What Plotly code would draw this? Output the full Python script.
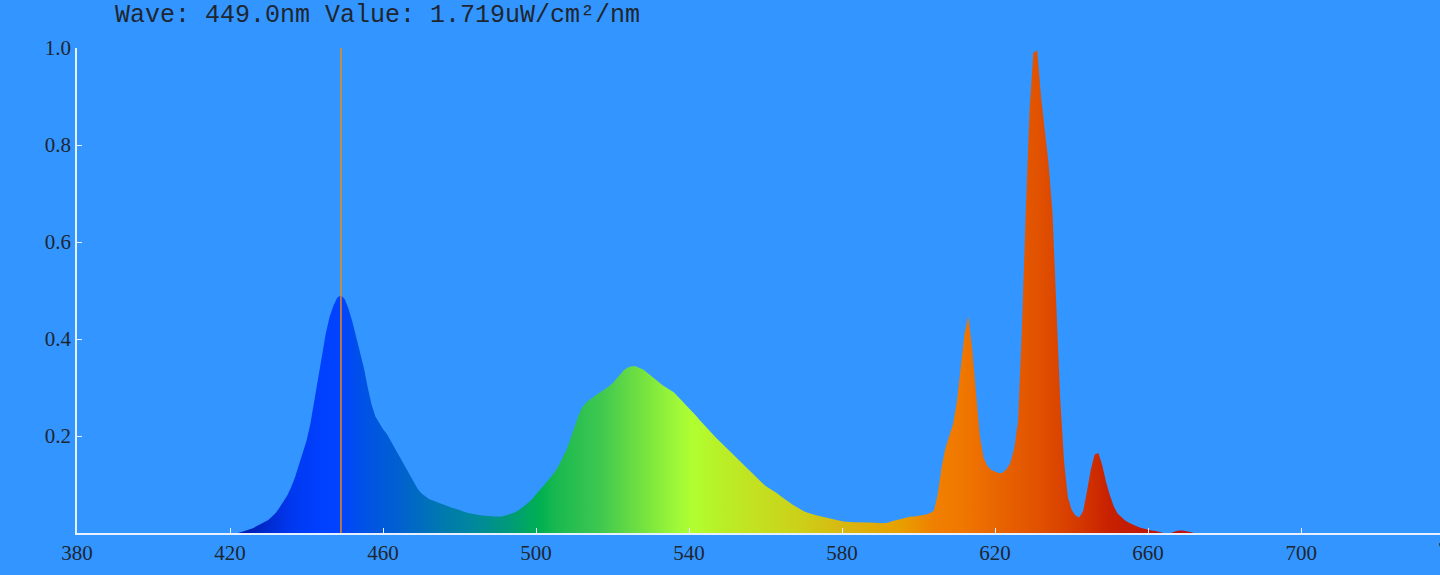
import plotly.graph_objects as go

# ---- data ----
WAVE_START = 420
spectrum = [
    0.000, 0.000, 0.000, 0.002, 0.004, 0.007, 0.010, 0.014, 0.018, 0.022,   # 420-429
    0.027, 0.034, 0.042, 0.053, 0.065, 0.078, 0.095, 0.115, 0.140, 0.165,   # 430-439
    0.190, 0.225, 0.270, 0.320, 0.365, 0.410, 0.445, 0.468, 0.485, 0.490,   # 440-449
    0.482, 0.462, 0.435, 0.405, 0.372, 0.340, 0.300, 0.265, 0.240, 0.226,   # 450-459
    0.214, 0.204, 0.190, 0.175, 0.162, 0.150, 0.135, 0.120, 0.105, 0.092,   # 460-469
    0.082, 0.075, 0.070, 0.067, 0.064, 0.060, 0.057, 0.054, 0.052, 0.050,   # 470-479
    0.047, 0.045, 0.042, 0.040, 0.038, 0.037, 0.036, 0.035, 0.035, 0.034,   # 480-489
    0.034, 0.034, 0.036, 0.038, 0.041, 0.045, 0.050, 0.056, 0.063, 0.070,   # 490-499
    0.080, 0.090, 0.098, 0.107, 0.117, 0.127, 0.140, 0.156, 0.172, 0.195,   # 500-509
    0.220, 0.240, 0.258, 0.268, 0.275, 0.281, 0.286, 0.291, 0.296, 0.302,   # 510-519
    0.309, 0.318, 0.328, 0.336, 0.341, 0.344, 0.344, 0.341, 0.337, 0.331,   # 520-529
    0.324, 0.318, 0.311, 0.305, 0.300, 0.295, 0.290, 0.282, 0.274, 0.266,   # 530-539
    0.258, 0.249, 0.240, 0.231, 0.222, 0.213, 0.205, 0.197, 0.189, 0.182,   # 540-549
    0.174, 0.166, 0.158, 0.150, 0.142, 0.134, 0.126, 0.118, 0.111, 0.104,   # 550-559
    0.097, 0.092, 0.088, 0.082, 0.076, 0.070, 0.064, 0.059, 0.054, 0.049,   # 560-569
    0.045, 0.042, 0.039, 0.037, 0.035, 0.033, 0.031, 0.029, 0.027, 0.025,   # 570-579
    0.024, 0.023, 0.022, 0.022, 0.022, 0.022, 0.022, 0.022, 0.021, 0.021,   # 580-589
    0.020, 0.020, 0.021, 0.024, 0.026, 0.029, 0.031, 0.033, 0.034, 0.034,   # 590-599
    0.035, 0.036, 0.038, 0.041, 0.046, 0.080, 0.135, 0.175, 0.200, 0.225,   # 600-609
    0.270, 0.340, 0.410, 0.447, 0.380, 0.290, 0.200, 0.155, 0.138, 0.130,   # 610-619
    0.126, 0.123, 0.124, 0.132, 0.145, 0.175, 0.230, 0.420, 0.660, 0.870,   # 620-629
    0.990, 0.995, 0.900, 0.830, 0.760, 0.660, 0.450, 0.280, 0.150, 0.075,   # 630-639
    0.048, 0.036, 0.032, 0.045, 0.085, 0.130, 0.162, 0.165, 0.140, 0.105,   # 640-649
    0.078, 0.055, 0.040, 0.032, 0.026, 0.021, 0.017, 0.014, 0.011, 0.009,   # 650-659
    0.006, 0.005, 0.004, 0.002, 0.000, 0.000, 0.000, 0.003, 0.005, 0.005,   # 660-669
    0.004, 0.002, 0.000,                                                    # 670-672
]
wavelengths = [WAVE_START + i for i in range(len(spectrum))]

x_ticks = [380, 420, 460, 500, 540, 580, 620, 660, 700]
y_ticks = [0.2, 0.4, 0.6, 0.8, 1.0]
y_tick_labels = ["0.2", "0.4", "0.6", "0.8", "1.0"]

CURSOR_WAVE = 449.0
CURSOR_VALUE = 1.719

# ---- style ----
BG = "#3395FF"
AXIS = "#E6F0FF"
TEXT = "#1E2630"
color_stops = [
    (420, "#0018A8"), (426, "#0022BC"), (436, "#0038F0"), (444, "#0040FF"),
    (449, "#0044FF"), (454, "#0050E8"), (464, "#0060D0"), (475, "#0078B0"),
    (485, "#008A98"), (493, "#009A78"), (498, "#00A860"), (501, "#00B050"),
    (505, "#18B850"), (517, "#40C850"), (527, "#70E040"), (537, "#A0F838"),
    (541, "#B0FF30"), (548, "#B8F028"), (558, "#C4E020"), (569, "#CCD018"),
    (580, "#D8B810"), (595, "#E8A000"), (604, "#F08000"), (611, "#F07800"),
    (621, "#E86400"), (632, "#E05000"), (642, "#D43800"), (650, "#C82000"),
    (660, "#C01808"), (672, "#C01010"),
]
g0, g1 = color_stops[0][0], color_stops[-1][0]
colorscale = [[(w - g0) / (g1 - g0), c] for w, c in color_stops]

X_MIN = 380
X_MAX = 736.3

fig = go.Figure()
fig.add_trace(go.Scatter(
    x=wavelengths, y=spectrum, mode="lines",
    line=dict(width=0, color="rgba(0,0,0,0)"),
    fill="tozeroy",
    fillgradient=dict(type="horizontal", colorscale=colorscale, start=g0, stop=g1),
    hoverinfo="skip", showlegend=False,
))

fig.add_shape(type="line", xref="x", yref="y", x0=CURSOR_WAVE, x1=CURSOR_WAVE,
              y0=0, y1=1.0, line=dict(color="#FF8A00", width=1.4))

fig.add_annotation(
    xref="paper", yref="paper", x=(113 - 77) / 1363, y=1.066,
    xanchor="left", yanchor="middle", showarrow=False,
    text=f"Wave: {CURSOR_WAVE:.1f}nm Value: {CURSOR_VALUE:.3f}uW/cm²/nm",
    font=dict(family="Liberation Mono", size=25, color=TEXT),
)
# partially visible 740 label at the right edge
fig.add_annotation(
    xref="paper", yref="paper", x=(740 - X_MIN) / (X_MAX - X_MIN), y=-0.036,
    xanchor="center", yanchor="middle", showarrow=False, text="740",
    font=dict(family="Liberation Serif", size=21, color=TEXT),
)

fig.update_xaxes(
    range=[X_MIN, X_MAX], tickvals=x_ticks, ticktext=[str(v) for v in x_ticks],
    showgrid=False, zeroline=False, showline=True, linecolor=AXIS, linewidth=1.5,
    ticks="inside", ticklen=5, tickcolor=AXIS, tickwidth=1,
    tickfont=dict(family="Liberation Serif", size=21, color=TEXT),
)
fig.update_yaxes(
    range=[0, 1.0], tickvals=y_ticks, ticktext=y_tick_labels,
    showgrid=False, zeroline=False, showline=True, linecolor=AXIS, linewidth=1.5,
    ticks="inside", ticklen=5, tickcolor=AXIS, tickwidth=1,
    tickfont=dict(family="Liberation Serif", size=21, color=TEXT),
)
fig.update_layout(
    width=1440, height=575,
    paper_bgcolor=BG, plot_bgcolor=BG,
    margin=dict(l=77, r=0, t=48, b=42),
    showlegend=False,
)
fig.write_html(
    "out.html",
    config={"displayModeBar": False},
    post_script="document.body.style.margin='0';document.body.style.overflow='hidden';",
)
